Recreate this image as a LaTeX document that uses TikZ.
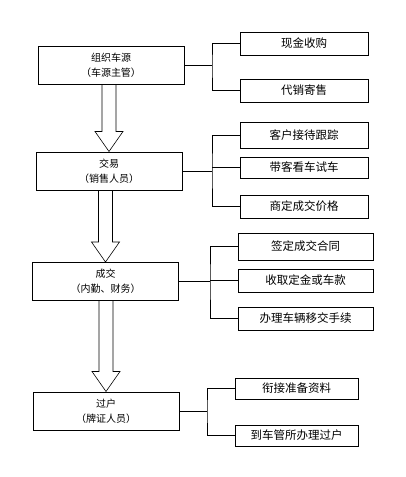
\documentclass[tikz,border=0pt]{standalone}
\usepackage{fontspec}
\newfontfamily\cjk{Noto Sans CJK SC}
\usetikzlibrary{calc}

\begin{document}
\begin{tikzpicture}[x=1pt, y=-1pt,
  stage/.style={draw, line width=1pt, minimum width=146pt, minimum height=38pt,
    align=center, font=\cjk\fontsize{10}{15}\selectfont},
  task/.style={draw, line width=0.9pt, minimum height=23pt, inner sep=0pt,
    font=\cjk\fontsize{11.5}{12}\selectfont},
  link/.style={line width=0.6pt}]
\useasboundingbox (0,0) rectangle (406,477);

% main stages
\node[stage] (m1) at (111,65.5)  {组织车源\\（车源主管）};
\node[stage] (m2) at (109,171)   {交易\\（销售人员）};
\node[stage] (m3) at (105.5,281.5) {成交\\（内勤、财务）};
\node[stage] (m4) at (106,411)   {过户\\（牌证人员）};

% tasks
\node[task, minimum width=128pt] (r11) at (304,43.5)  {现金收购};
\node[task, minimum width=128pt] (r12) at (304,90.5)  {代销寄售};
\node[task, minimum width=128pt, minimum height=26pt] (r21) at (304,135) {客户接待跟踪};
\node[task, minimum width=128pt, minimum height=21pt] (r22) at (304,167.5) {带客看车试车};
\node[task, minimum width=128pt] (r23) at (304,206.5) {商定成交价格};
\node[task, minimum width=135pt, minimum height=27pt] (r31) at (305.5,246.5) {签定成交合同};
\node[task, minimum width=135pt] (r32) at (305.5,280.5) {收取定金或车款};
\node[task, minimum width=135pt] (r33) at (305.5,318.5) {办理车辆移交手续};
\node[task, minimum width=123pt, minimum height=21pt] (r41) at (296.5,388.5) {衔接准备资料};
\node[task, minimum width=123pt, minimum height=21pt] (r42) at (296.5,435.5) {到车管所办理过户};

% brackets
\coordinate (k1) at (212,65.5);
\coordinate (k2) at (212,171);
\coordinate (k3) at (210,281.5);
\coordinate (k4) at (207,411);
\draw[link] (m1.east) -- (k1);
\draw[link] (r11.west) -| (k1) |- (r12.west);
\draw[link] (m2.east) -- (k2);
\draw[link] (r21.west) -| (k2) |- (r23.west);
\draw[link] (k2 |- r22.west) -- (r22.west);
\draw[link] (m3.east) -- (k3);
\draw[link] (r31.west) -| (k3) |- (r33.west);
\draw[link] (k3 |- r32.west) -- (r32.west);
\draw[link] (m4.east) -- (k4);
\draw[link] (r41.west) -| (k4) |- (r42.west);

% hollow arrows
\foreach \a/\b in {m1/m2, m2/m3, m3/m4}
\draw[link] ($(\a.south -| \b.north)+(-7,0)$) -- ($(\b.north)+(-7,-20)$)
  -- ($(\b.north)+(-14,-20)$) -- (\b.north) -- ($(\b.north)+(14,-20)$)
  -- ($(\b.north)+(7,-20)$) -- ($(\a.south -| \b.north)+(7,0)$);
\end{tikzpicture}
\end{document}
